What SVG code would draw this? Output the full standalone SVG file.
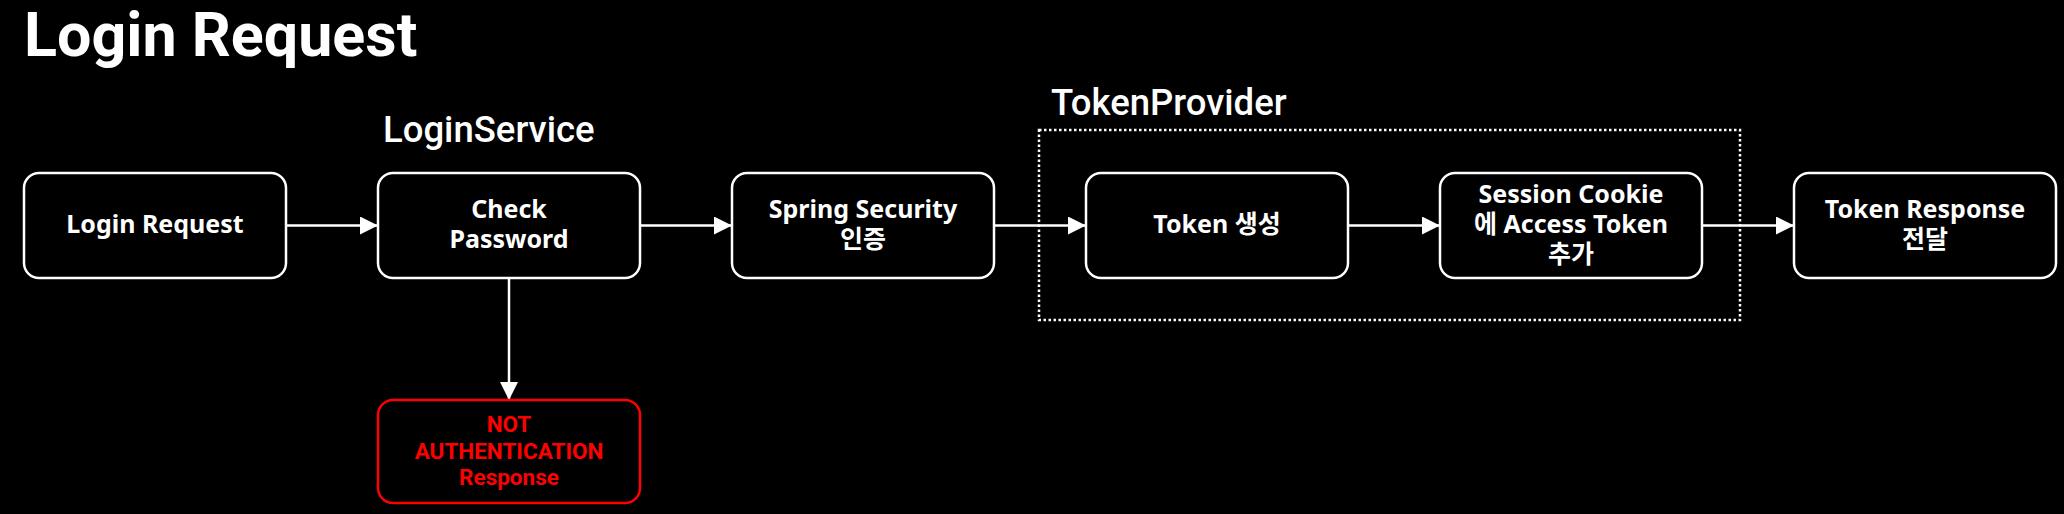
<svg xmlns="http://www.w3.org/2000/svg" width="2064" height="514" viewBox="0 0 2064 514">
<defs>
<style>
.node rect{fill:#000;stroke:#fff;stroke-width:2.5}
.node.err rect{stroke:#ff0000}
.t{font-family:"Noto Sans","Noto Sans CJK KR",sans-serif;font-weight:700;font-size:25px;fill:#fff;text-anchor:middle}
.r{font-family:Roboto,"Noto Sans CJK KR",sans-serif;font-weight:700;font-size:22.5px;fill:#ff0000;text-anchor:middle}
.lbl{font-family:Roboto,"Noto Sans CJK KR",sans-serif;font-weight:500;fill:#fff}
.title{font-family:Roboto,"Noto Sans CJK KR",sans-serif;font-weight:700;font-size:61px;fill:#fff}
.edge{stroke:#fff;stroke-width:2.5;fill:none}
</style>
<marker id="ah" viewBox="0 0 18 18" refX="18" refY="9" markerWidth="18" markerHeight="18" markerUnits="userSpaceOnUse" orient="auto">
<path d="M0,0 L18,9 L0,18 Z" fill="#fff"/>
</marker>
</defs>
<rect width="2064" height="514" fill="#000"/>
<text class="title" x="24" y="56">Login Request</text>
<text class="lbl" x="383" y="142" font-size="36.5">LoginService</text>
<g id="tokenprovider">
<rect x="1039" y="130" width="701" height="190" fill="none" stroke="#fff" stroke-width="2.5" stroke-dasharray="2.5 2.5"/>
<text class="lbl" x="1051" y="115" font-size="36.5">TokenProvider</text>
</g>
<g id="connectors">
<line class="edge" x1="286" y1="225.5" x2="378" y2="225.5" marker-end="url(#ah)"/>
<line class="edge" x1="640" y1="225.5" x2="732" y2="225.5" marker-end="url(#ah)"/>
<line class="edge" x1="994" y1="225.5" x2="1086" y2="225.5" marker-end="url(#ah)"/>
<line class="edge" x1="1348" y1="225.5" x2="1440" y2="225.5" marker-end="url(#ah)"/>
<line class="edge" x1="1702" y1="225.5" x2="1794" y2="225.5" marker-end="url(#ah)"/>
<line class="edge" x1="509" y1="278" x2="509" y2="400" marker-end="url(#ah)"/>
</g>
<g id="login-request" class="node">
<rect x="24" y="173" width="262" height="105" rx="15"/>
<text class="t" x="155" y="233">Login Request</text>
</g>
<g id="check-password" class="node">
<rect x="378" y="173" width="262" height="105" rx="15"/>
<text class="t" x="509" y="218">Check</text>
<text class="t" x="509" y="248">Password</text>
</g>
<g id="spring-security" class="node">
<rect x="732" y="173" width="262" height="105" rx="15"/>
<text class="t" x="863" y="218">Spring Security</text>
<text class="t" x="863" y="248">인증</text>
</g>
<g id="token-create" class="node">
<rect x="1086" y="173" width="262" height="105" rx="15"/>
<text class="t" x="1217" y="233">Token 생성</text>
</g>
<g id="session-cookie" class="node">
<rect x="1440" y="173" width="262" height="105" rx="15"/>
<text class="t" x="1571" y="203">Session Cookie</text>
<text class="t" x="1571" y="233">에 Access Token</text>
<text class="t" x="1571" y="263">추가</text>
</g>
<g id="token-response" class="node">
<rect x="1794" y="173" width="262" height="105" rx="15"/>
<text class="t" x="1925" y="218">Token Response</text>
<text class="t" x="1925" y="248">전달</text>
</g>
<g id="not-auth" class="node err">
<rect x="378" y="400" width="262" height="103" rx="15"/>
<text class="r" x="509" y="432">NOT</text>
<text class="r" x="509" y="458.5">AUTHENTICATION</text>
<text class="r" x="509" y="485">Response</text>
</g>
</svg>
